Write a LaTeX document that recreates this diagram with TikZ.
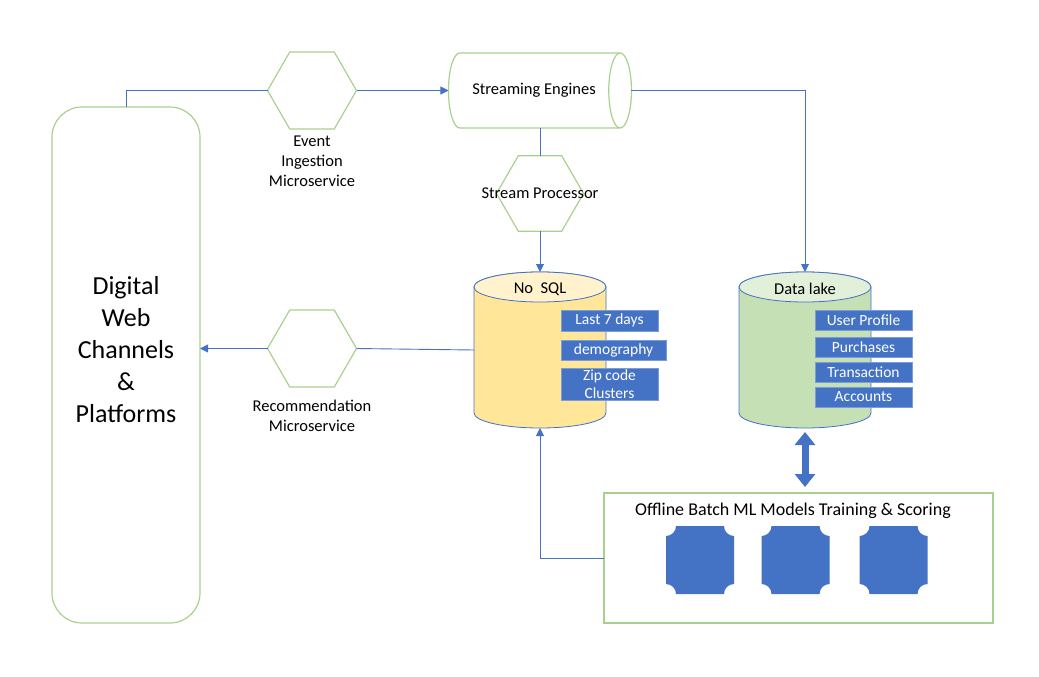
\documentclass[tikz,border=0pt]{standalone}
\usepackage{fontspec}
\setmainfont{Carlito}
\usetikzlibrary{shapes.geometric,arrows.meta}

\definecolor{lgreen}{HTML}{A9D18E}
\definecolor{oblue}{HTML}{4472C4}
\definecolor{nsbody}{HTML}{FFE699}
\definecolor{nstop}{HTML}{FFF2CC}
\definecolor{dlbody}{HTML}{C5E0B4}
\definecolor{dltop}{HTML}{E2F0D9}

% vertical data store: #1 centre x, #2 body colour, #3 top colour
\newcommand\drawstore[3]{%
  \filldraw[fill=#2, draw=oblue, line width=0.8pt]
    (#1-66,287) -- (#1-66,413) arc[start angle=180, end angle=0, x radius=66, y radius=15]
    -- (#1+66,287) arc[start angle=0, end angle=-180, x radius=66, y radius=15] -- cycle;
  \filldraw[fill=#3, draw=oblue, line width=0.8pt] (#1,287) ellipse[x radius=66, y radius=15];
}

\tikzset{
  hexnode/.style={regular polygon, regular polygon sides=6,
    draw=lgreen, line width=1.2pt, minimum size=#1, inner sep=0pt, outer sep=0pt},
  conn/.style={draw=oblue, line width=0.9pt},
  tip/.style={-{Triangle[width=8pt,length=8pt]}},
  bluebox/.style={fill=oblue, draw=oblue!70!white, text=white, inner sep=0pt,
    font=\fontsize{15.5}{18}\selectfont, align=center},
  storebox/.style={minimum width=132pt, minimum height=156pt, inner sep=0pt, outer sep=0pt},
  txt/.style={font=\fontsize{16.5}{20}\selectfont, align=center}
}

\begin{document}
\begin{tikzpicture}[x=1pt,y=-1pt]
  \useasboundingbox (0,0) rectangle (1039,677);

  % channels
  \node[draw=lgreen, line width=1.2pt, rounded corners=30pt, minimum width=148pt,
        minimum height=516pt, outer sep=0pt] (web) at (126,365) {};
  \node[font=\fontsize{26}{32}\selectfont, align=center] (weblbl) at (126,350)
        {Digital\\Web\\Channels\\\&\\Platforms};

  % microservices
  \node[hexnode=89pt, label={[txt, label distance=3pt]below:Event\\Ingestion\\Microservice}]
        (evt) at (312,90.5) {};
  \node[hexnode=89pt, label={[txt, label distance=9pt]below:Recommendation\\Microservice}]
        (rec) at (312,348.5) {};

  % streaming
  \node[cylinder, draw=lgreen, line width=1.2pt, aspect=1.6, minimum width=75pt,
        minimum height=183pt, inner sep=0pt, outer sep=0pt, txt] (stream) at (534,90.5)
        {Streaming Engines};
  \node[hexnode=87pt, label={[txt]center:Stream Processor}] (sp) at (540,193.5) {};

  % stores
  \drawstore{540}{nsbody}{nstop}
  \node[storebox] (nosql) at (540,350) {};
  \node[txt] (nosqllbl) at (540,289) {No\ \ SQL};
  \node[bluebox, minimum width=97pt, minimum height=21pt] (last) at (609.5,320.5) {Last 7 days};
  \node[bluebox, minimum width=105pt, minimum height=20pt] (demo) at (613.5,350) {demography};
  \node[bluebox, minimum width=97pt, minimum height=32pt] (zip) at (609.5,384) {Zip code\\Clusters};

  \drawstore{805}{dlbody}{dltop}
  \node[storebox] (lake) at (805,350) {};
  \node[txt] (lakelbl) at (805,289) {Data lake};
  \node[bluebox, minimum width=97pt, minimum height=20pt] (user) at (863.5,320) {User Profile};
  \node[bluebox, minimum width=97pt, minimum height=20pt] (purch) at (863.5,347) {Purchases};
  \node[bluebox, minimum width=97pt, minimum height=20pt] (trans) at (863.5,372) {Transaction};
  \node[bluebox, minimum width=97pt, minimum height=20pt] (acct) at (863.5,397) {Accounts};

  % batch
  \node[draw=lgreen, line width=1.2pt, minimum width=389pt, minimum height=130pt,
        outer sep=0pt] (offline) at (798.5,558) {};
  \node[txt, font=\fontsize{18}{20}\selectfont] (offlbl) at (793,511)
        {Offline Batch ML Models Training \& Scoring};
  \foreach \cx in {700,795.5,893.5}
    \fill[oblue] (\cx-24,560-34) -- (\cx+24,560-34) arc[start angle=180, end angle=90, radius=10]
      -- (\cx+34,560+24) arc[start angle=270, end angle=180, radius=10]
      -- (\cx-24,560+34) arc[start angle=0, end angle=-90, radius=10]
      -- (\cx-34,560-24) arc[start angle=90, end angle=0, radius=10] -- cycle;

  % connectors
  \draw[conn] (web.north) |- (evt.west);
  \draw[conn, tip] (evt.east) -- (stream.west);
  \draw[conn, tip] (stream.east) -| (lake.north);
  \draw[conn] (sp.north) -- (sp.north |- stream.south);
  \draw[conn, tip] (sp.south) -- (nosql.north);
  \draw[conn] (nosql.west) -- (rec.east);
  \draw[conn, tip] (rec.west) -- (rec.west -| web.east);
  \draw[conn, tip] (offline.west) -| (nosql.south);
  \draw[oblue, line width=7pt, {Triangle[width=20pt,length=13pt]}-{Triangle[width=20pt,length=13pt]},
        shorten <=4pt, shorten >=6pt] (lake.south) -- (offline.north -| lake.south);
\end{tikzpicture}
\end{document}
